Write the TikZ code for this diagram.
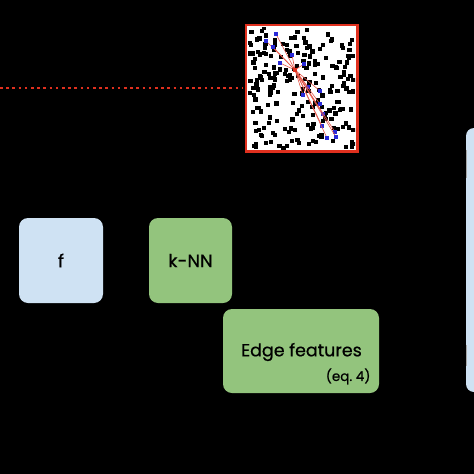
\documentclass[tikz,border=0pt]{standalone}
\usepackage{fontspec}
\setmainfont{Poppins}
\newfontfamily\medfont{Poppins}[FakeBold=0.6]
\definecolor{boxblue}{HTML}{CFE2F3}
\definecolor{boxgreen}{HTML}{93C47D}
\definecolor{ptred}{HTML}{E0301E}
\definecolor{ptblue}{HTML}{2A2AD8}
\tikzset{
  block/.style={rounded corners=9pt, inner sep=0pt, text=black, font=\medfont\fontsize{18}{20}\selectfont},
  ptdot/.style={fill=black, minimum size=4.2pt, inner sep=0pt},
  nbdot/.style={fill=ptblue, minimum size=4pt, inner sep=0pt},
  nbline/.style={draw=ptred!80, line width=0.6pt}
}
\begin{document}
\begin{tikzpicture}[x=1pt,y=-1pt]
\useasboundingbox[fill=black] (0,0) rectangle (474,474);

% dotted guide line
\draw[ptred, line width=2.6pt, dash pattern=on 2.6pt off 3.6pt] (0,88) -- (243,88);

% point cloud
\node[fill=white, minimum width=111pt, minimum height=126pt,
      inner sep=0pt, anchor=north west] (cloud) at (246,25) {};
\begin{scope}
\clip (248,27) rectangle (355,149);
\pgfmathsetseed{42}
\foreach \i in {1,...,220}{
  \pgfmathsetmacro{\px}{249+105*rnd}
  \pgfmathsetmacro{\py}{28+120*rnd}
  \node[ptdot] at (\px,\py) {};
}
\end{scope}
\coordinate (ctr) at (295,70);
\foreach \nx/\ny in {276/34,266/41,273/47,292/55,280/63,304/64,308/87,320/91,
                     303/95,320/104,323/114,322/126,335/132,336/137,327/138}{
  \draw[nbline] (ctr) -- (\nx,\ny);
  \node[nbdot] at (\nx,\ny) {};
}
\node[fill=ptred, minimum size=4pt, inner sep=0pt] (ctrdot) at (ctr) {};
\draw[ptred, line width=2.4pt] (cloud.north west) rectangle (cloud.south east);

% blocks
\node[block, fill=boxblue, minimum width=84pt, minimum height=85pt] (f) at (61,260.5) {f};
\node[block, fill=boxgreen, minimum width=83pt, minimum height=85pt] (knn) at (190.5,260.5) {k-NN};
\node[block, fill=boxgreen, minimum width=156pt, minimum height=84pt] (edge) at (301,351) {};
\node[text=black, font=\medfont\fontsize{17.5}{20}\selectfont] (edgelbl) at (301.5,352) {Edge features};
\node[text=black, font=\medfont\fontsize{13.5}{15}\selectfont, anchor=south east] (eqlbl) at (374,388) {(eq.\ 4)};

% right panel
\begin{scope}
\clip (0,0) rectangle (474,474);
\fill[boxblue, rounded corners=8pt] (466,128) rectangle (500,392);
\draw[gray!70, line width=1pt] (466.5,150) -- (466.5,178);
\draw[gray!70, line width=1pt] (466.5,345) -- (466.5,366);
\end{scope}
\end{tikzpicture}
\end{document}
